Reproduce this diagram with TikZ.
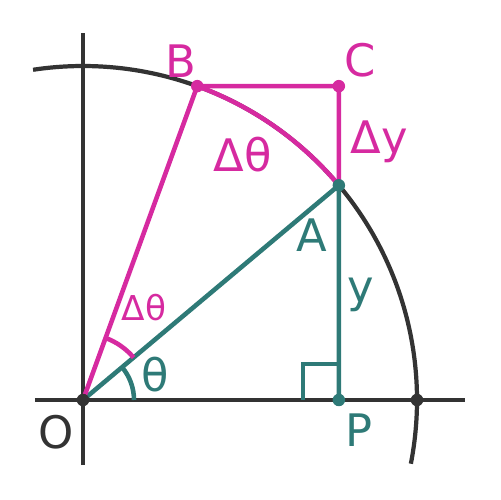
\documentclass[tikz,border=0pt]{standalone}
\usepackage{fontspec}
\setmainfont{DejaVu Sans}
\usetikzlibrary{calc}
\definecolor{axisgray}{HTML}{333333}
\definecolor{magent}{HTML}{D62AA0}
\definecolor{tealc}{HTML}{2E7A77}
\begin{document}
\begin{tikzpicture}[x=0.02cm, y=0.02cm,
  axisline/.style={axisgray, line width=2.4pt},
  tealline/.style={tealc, line width=2.6pt},
  magline/.style={magent, line width=2.6pt},
  dot/.style={circle, fill, inner sep=0pt, minimum size=0.25cm},
  biglabel/.style={font=\fontsize{25.5}{25.5}\selectfont},
  smalllabel/.style={font=\fontsize{19.5}{19.5}\selectfont}]

\def\R{334}
\def\th{40}
\def\dth{30}

\useasboundingbox (-83,-100) rectangle (417,400);

% points
\coordinate (O) at (0,0);
\coordinate (A) at (\th:\R);
\coordinate (B) at (\th+\dth:\R);
\coordinate (C) at (A |- B);
\coordinate (P) at (A |- O);
\coordinate (X) at (\R,0);

% axes
\draw[axisline] (-48,0) -- (382,0);
\draw[axisline] (0,-65) -- (0,367);

% circle
\draw[axisline] (-11:\R) arc[start angle=-11, end angle=98.6, radius=\R];

% triangle O A P
\draw[tealline] (O) -- (A) -- (P);
\draw[tealline] ($(P)+(-36,0)$) -- ++(0,36) -- ++(36,0);

% triangle O B, B C A
\draw[magline] (O) -- (B) -- (C) -- (A);
\draw[magline] (A) arc[start angle=\th, end angle=\th+\dth, radius=\R];

% angles
\draw[tealline] (51,0) arc[start angle=0, end angle=\th, radius=51];
\draw[magline] (\th:66) arc[start angle=\th, end angle=\th+\dth, radius=66];

% dots
\node[dot, axisgray] (o) at (O) {};
\node[dot, axisgray] (x) at (X) {};
\node[dot, tealc] (a) at (A) {};
\node[dot, tealc] (p) at (P) {};
\node[dot, magent] (b) at (B) {};
\node[dot, magent] (c) at (C) {};

% labels
\node[biglabel, magent] (lB) at (98,339) {B};
\node[biglabel, magent] (lC) at (277,340) {C};
\node[biglabel, magent] (ldy) at (296,258) {Δy};
\node[biglabel, magent] (ldt) at (160,245) {Δθ};
\node[biglabel, tealc] (lA) at (229,165) {A};
\node[biglabel, tealc] (ly) at (278,105) {y};
\node[smalllabel, magent] (ldts) at (61,92) {Δθ};
\node[biglabel, tealc] (lt) at (72,25) {θ};
\node[biglabel, axisgray] (lO) at (-27,-32) {O};
\node[biglabel, tealc] (lP) at (276,-30) {P};

\end{tikzpicture}
\end{document}
